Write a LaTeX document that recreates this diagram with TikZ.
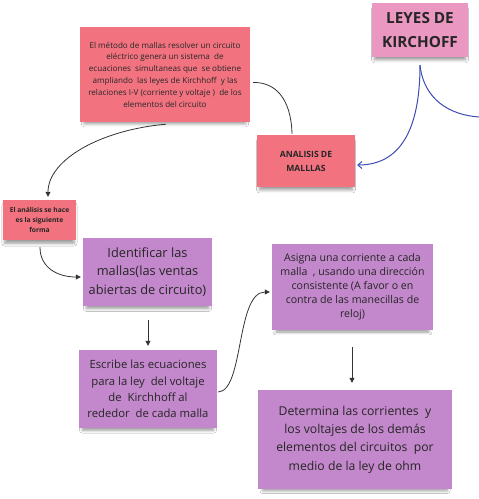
\documentclass[tikz,border=0pt]{standalone}
\usepackage{fontspec}
\setmainfont{Open Sans}
\usetikzlibrary{arrows.meta,shadows.blur,calc}
\definecolor{salmon}{HTML}{F2737F}
\definecolor{lila}{HTML}{C387CB}
\definecolor{rosa}{HTML}{EA97C1}
\definecolor{txt}{HTML}{262626}
\definecolor{azul}{HTML}{3E4DB5}
\definecolor{linea}{HTML}{333333}
\tikzset{
  note/.style={rectangle, inner sep=2pt, align=center, text=txt,
    blur shadow={shadow xshift=0pt, shadow yshift=-4.5pt, shadow scale=0.95, shadow opacity=40, shadow blur steps=6, shadow blur radius=3pt}},
  pinknote/.style={note, fill=salmon},
  purplenote/.style={note, fill=lila},
  conn/.style={draw=linea, line width=0.8pt, -{Triangle[length=5pt,width=5pt]}},
  plain/.style={draw=linea, line width=0.8pt},
  blueconn/.style={draw=azul, line width=1pt, -{Straight Barb[length=4pt,width=7pt]}}
}
\begin{document}
\begin{tikzpicture}[x=1pt,y=-1pt]
\useasboundingbox (0,0) rectangle (479,499);
\fill[white] (0,0) rectangle (479,499);

\node[pinknote, minimum width=170pt, minimum height=95pt,
  font=\fontsize{8.1}{11.8}\selectfont] (b1) at (165,74.5)
  {El método de mallas resolver un circuito\\eléctrico genera un sistema\ \ de\\ecuaciones\ \ simultaneas que\ \ se obtiene\\ampliando\ \ las leyes de Kirchhoff\ \ y las\\relaciones I-V (corriente y voltaje )\ \ de los\\elementos del circuito};

\node[note, fill=rosa, minimum width=96pt, minimum height=54pt,
  font=\fontsize{15.3}{23.5}\selectfont\bfseries] (b2) at (420,30)
  {LEYES DE\\KIRCHOFF};

\node[pinknote, minimum width=98pt, minimum height=52pt,
  font=\fontsize{8.6}{14}\selectfont\bfseries] (b3) at (306,161)
  {ANALISIS DE\\MALLLAS};

\node[pinknote, minimum width=73pt, minimum height=40pt,
  font=\fontsize{6.7}{9.6}\selectfont\bfseries] (b4) at (39.5,220)
  {El análisis se hace\\es la siguiente\\forma};

\node[purplenote, minimum width=129pt, minimum height=68pt,
  font=\fontsize{12.8}{18.5}\selectfont] (b5) at (147.5,272)
  {Identificar las\\mallas(las ventas\\abiertas de circuito)};

\node[purplenote, minimum width=161pt, minimum height=86pt,
  font=\fontsize{10.6}{14}\selectfont] (b6) at (352.5,287)
  {Asigna una corriente a cada\\malla\ \ , usando una dirección\\consistente (A favor o en\\contra de las manecillas de\\reloj)};

\node[purplenote, minimum width=138pt, minimum height=78pt,
  font=\fontsize{11.3}{16.3}\selectfont] (b7) at (148,389)
  {Escribe las ecuaciones\\para la ley\ \ del voltaje\\de\ \ Kirchhoff al\\rededor\ \ de cada malla};

\node[purplenote, minimum width=194pt, minimum height=99pt,
  font=\fontsize{12.2}{18.3}\selectfont] (b8) at (355,439.5)
  {Determina las corrientes\ \ y\\los voltajes de los demás\\elementos del circuitos\ \ por\\medio de la ley de ohm};

% connectors
\coordinate (kstart) at ($(b2.south)+(0,8)$);
\coordinate (kend) at (479,117);
\draw[blueconn] (kstart) .. controls (420,130) and (400,165) .. ($(b3.east)+(2,4)$);
\draw[azul, line width=1pt] (kstart) .. controls (424,100) and (450,115) .. (kend);

\draw[plain] ($(b3.north)+(-14,-1)$) .. controls (291,98) and (275,82) .. ($(b1.east)+(3,8)$);

\draw[conn] ($(b1.south)+(1,2)$) .. controls (100,130) and (48,160) .. ($(b4.north)+(8.5,-3)$);

\draw[conn] ($(b4.south)+(0.5,7)$) .. controls (40,268) and (58,277) .. ($(b5.west)+(-2,5)$);

\draw[conn] ($(b5.south)+(0.5,14)$) -- ($(b7.north)+(0,-4)$);

\draw[conn] ($(b7.east)+(1,3)$) .. controls (244,391) and (236,292) .. ($(b6.west)+(-2,5)$);

\draw[conn] ($(b6.south)+(-0.5,17)$) -- ($(b8.north)+(-3,-7)$);
\end{tikzpicture}
\end{document}
